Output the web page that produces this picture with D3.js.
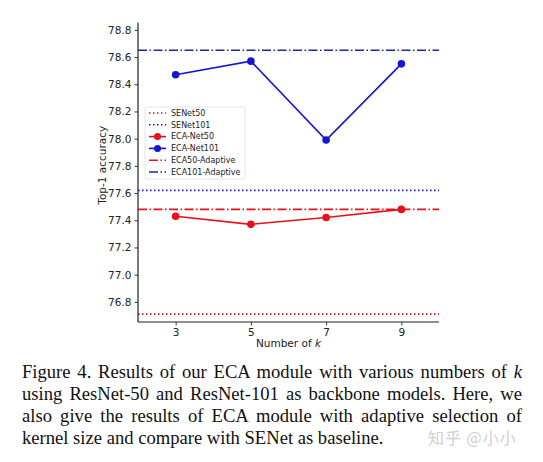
<!DOCTYPE html>
<html>
<head>
<meta charset="utf-8">
<script src="https://cdn.jsdelivr.net/npm/d3@7"></script>
<style>
    body { margin: 0; background: white; }
    svg { display: block; }
</style>
</head>
<body>
<svg id="chart"></svg>
<script>
// values
const kValues = [3, 5, 7, 9];
const ecaNet50 = [77.43, 77.37, 77.42, 77.48];
const ecaNet101 = [78.47, 78.57, 77.99, 78.55];
const seNet50 = 76.71;
const seNet101 = 77.62;
const eca50Adaptive = 77.48;
const eca101Adaptive = 78.65;
const yTicks = [76.8, 77.0, 77.2, 77.4, 77.6, 77.8, 78.0, 78.2, 78.4, 78.6, 78.8];
const captionLines = [
    'Figure 4. Results of our ECA module with various numbers of ',
    'using ResNet-50 and ResNet-101 as backbone models. Here, we',
    'also give the results of ECA module with adaptive selection of',
    'kernel size and compare with SENet as baseline.',
];

const RED = '#e8101a';
const BLUE = '#1414d2';
const NAVY = '#1e2a8e';

const W = 543, H = 462;
const margin = { top: 22.5, left: 138, right: 104, bottom: 140 };
const w = W - margin.left - margin.right;
const h = H - margin.top - margin.bottom;

const svg = d3.select('#chart').attr('width', W).attr('height', H);
const g = svg.append('g').attr('transform', `translate(${margin.left},${margin.top})`);

const x = d3.scaleLinear().domain([2, 10]).range([0, w]);
const y = d3.scaleLinear().domain([76.652, 78.854]).range([h, 0]);

const font = 'DejaVu Sans, sans-serif';

// reference lines
const refs = [
    { v: seNet50, color: RED, dash: '1.5,2.5' },
    { v: seNet101, color: BLUE, dash: '1.5,2.5' },
    { v: eca50Adaptive, color: RED, dash: '9,2.5,1.5,2.5' },
    { v: eca101Adaptive, color: NAVY, dash: '9,2.5,1.5,2.5' },
];
g.selectAll('line.ref')
    .data(refs)
    .join('line')
    .attr('class', 'ref')
    .attr('x1', 0)
    .attr('x2', w)
    .attr('y1', d => y(d.v))
    .attr('y2', d => y(d.v))
    .attr('stroke', d => d.color)
    .attr('stroke-width', 1.7)
    .attr('stroke-dasharray', d => d.dash);

// series
const series = [
    { vals: ecaNet50, color: RED },
    { vals: ecaNet101, color: BLUE },
];
const line = d3.line().x((d, i) => x(kValues[i])).y(d => y(d));
series.forEach(s => {
    g.append('path')
        .attr('d', line(s.vals))
        .attr('fill', 'none')
        .attr('stroke', s.color)
        .attr('stroke-width', 1.6);
    g.selectAll(null)
        .data(s.vals)
        .join('circle')
        .attr('cx', (d, i) => x(kValues[i]))
        .attr('cy', d => y(d))
        .attr('r', 3.8)
        .attr('fill', s.color);
});

// axes (left and bottom spines only)
const yAxis = g.append('g')
    .call(d3.axisLeft(y).tickValues(yTicks).tickFormat(d3.format('.1f')).tickSize(3.5).tickPadding(3));
const xAxis = g.append('g')
    .attr('transform', `translate(0,${h})`)
    .call(d3.axisBottom(x).tickValues(kValues).tickSize(3.5).tickPadding(3));
[xAxis, yAxis].forEach(a => {
    a.select('.domain').attr('stroke', '#222').attr('stroke-width', 1.2)
        .attr('d', a === yAxis ? `M0,${h}V0` : `M0,0H${w}`);
    a.selectAll('.tick line').attr('stroke', '#222').attr('stroke-width', 0.9);
    a.selectAll('.tick text').attr('font-family', font).attr('font-size', 10.5).attr('fill', '#222');
});

// axis labels
const xl = g.append('text')
    .attr('x', w / 2)
    .attr('y', h + 25)
    .attr('text-anchor', 'middle')
    .attr('font-family', font)
    .attr('font-size', 10.5)
    .attr('fill', '#222');
xl.append('tspan').text('Number of ');
xl.append('tspan').attr('font-style', 'italic').text('k');

g.append('text')
    .attr('transform', `translate(-32,${h / 2 - 7}) rotate(-90)`)
    .attr('text-anchor', 'middle')
    .attr('font-family', font)
    .attr('font-size', 10.5)
    .attr('fill', '#222')
    .text('Top-1 accuracy');

// legend
const legendItems = [
    { label: 'SENet50', color: RED, dash: '1.5,2.5', marker: false },
    { label: 'SENet101', color: BLUE, dash: '1.5,2.5', marker: false },
    { label: 'ECA-Net50', color: RED, dash: null, marker: true },
    { label: 'ECA-Net101', color: BLUE, dash: null, marker: true },
    { label: 'ECA50-Adaptive', color: RED, dash: '9,2.5,1.5,2.5', marker: false },
    { label: 'ECA101-Adaptive', color: NAVY, dash: '9,2.5,1.5,2.5', marker: false },
];
const lg = g.append('g').attr('transform', 'translate(7,84.5)');
lg.append('rect')
    .attr('width', 100)
    .attr('height', 72)
    .attr('rx', 2)
    .attr('fill', 'white')
    .attr('fill-opacity', 0.85)
    .attr('stroke', '#ddd')
    .attr('stroke-width', 0.8);
const li = lg.selectAll('g.item')
    .data(legendItems)
    .join('g')
    .attr('class', 'item')
    .attr('transform', (d, i) => `translate(0,${6 + i * 11.8})`);
li.append('line')
    .attr('x1', 4)
    .attr('x2', 21)
    .attr('stroke', d => d.color)
    .attr('stroke-width', 1.6)
    .attr('stroke-dasharray', d => d.dash);
li.filter(d => d.marker)
    .append('circle')
    .attr('cx', 12.5)
    .attr('r', 3.5)
    .attr('fill', d => d.color);
li.append('text')
    .attr('x', 26)
    .attr('dy', '0.35em')
    .attr('font-family', font)
    .attr('font-size', 8)
    .attr('fill', '#222')
    .text(d => d.label);

// caption, justified with word spacing like the paper
const cap = svg.append('g')
    .attr('font-family', "'Liberation Serif', 'Times New Roman', serif")
    .attr('font-size', 18.6)
    .attr('fill', '#111');
captionLines.forEach((t, i) => {
    const tx = cap.append('text')
        .attr('x', 22)
        .attr('y', 378 + i * 22);
    tx.append('tspan').text(t);
    if (i === 0) tx.append('tspan').attr('font-style', 'italic').text('k');
    if (i < 3) {
        const natural = tx.node().getComputedTextLength();
        const spaces = (t.trim().match(/ /g) || []).length + (i === 0 ? 1 : 0);
        tx.attr('word-spacing', (500 - natural) / spaces);
    }
});

// watermark
svg.append('text')
    .attr('x', 428)
    .attr('y', 444)
    .attr('font-family', 'Noto Sans CJK SC, sans-serif')
    .attr('font-size', 16)
    .attr('letter-spacing', 1)
    .attr('fill', '#cfcfcf')
    .text('知乎 @小小');
</script>
</body>
</html>
